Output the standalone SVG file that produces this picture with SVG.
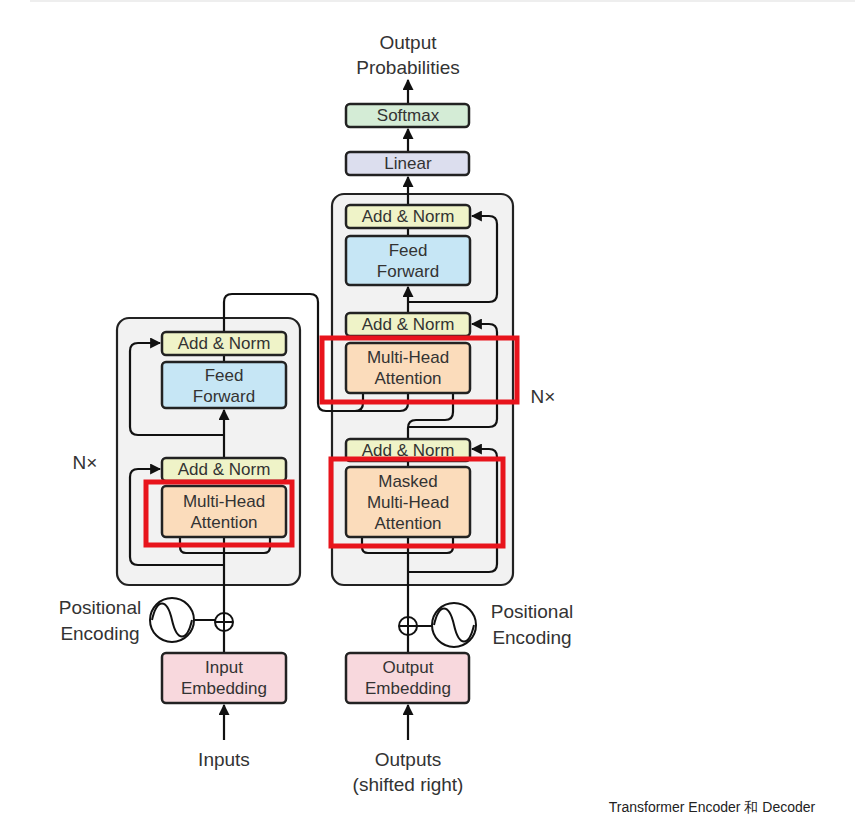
<svg xmlns="http://www.w3.org/2000/svg" width="855" height="825" viewBox="0 0 855 825">
<style>
text{font-family:"Liberation Sans",Arial,sans-serif;fill:#333;text-anchor:middle}
.t{font-size:17px}.l{font-size:19px}
.blk{fill:#f2f2f2;stroke:#222;stroke-width:2.2}
.n{stroke:#222;stroke-width:2.5}
.an{fill:#eff3c8}.ff{fill:#c6e6f5}.mh{fill:#fbdcbb}.sm{fill:#d4ecd6}.li{fill:#dcdeee}.em{fill:#f8d8dd}
.red{fill:none;stroke:#e8141c;stroke-width:5}
.c{fill:none;stroke:#111;stroke-width:2.2}
</style>
<defs><marker id="a" viewBox="0 0 10 10" refX="9" refY="5" markerWidth="5" markerHeight="5" orient="auto"><path d="M0,0L10,5L0,10z" fill="#111"/></marker></defs>
<rect width="855" height="825" fill="#fff"/>
<line x1="30" y1="1" x2="855" y2="1" stroke="#ddd"/>
<rect class="blk" x="117" y="318" width="183" height="267" rx="12"/>
<rect class="blk" x="332" y="194" width="181" height="391" rx="12"/>
<g id="connectors">
<path class="c" marker-end="url(#a)" d="M224,740V705"/>
<path class="c" d="M224,653V631M224,613V537"/>
<path class="c" d="M180,537V547q0,6 6,6H264q6,0 6,-6V537"/>
<path class="c" marker-end="url(#a)" d="M224,565H138q-8,0 -8,-8V477q0,-8 8,-8H160"/>
<path class="c" marker-end="url(#a)" d="M224,458V410"/>
<path class="c" marker-end="url(#a)" d="M224,435H138q-8,0 -8,-8V351q0,-8 8,-8H160"/>
<path class="c" d="M224,362V355M224,332V302q0,-8 8,-8H310q8,0 8,8V403q0,8 8,8H355q8,0 8,-8V393M355,411H400q8,0 8,-8V393"/>
<path class="c" marker-end="url(#a)" d="M408,740V705"/>
<path class="c" d="M408,653V635M408,617V537"/>
<path class="c" d="M362,537V547q0,6 6,6H447q6,0 6,-6V537"/>
<path class="c" marker-end="url(#a)" d="M408,572H489q8,0 8,-8V457q0,-8 -8,-8H472"/>
<path class="c" d="M408,467V461M408,439V428q0,-8 8,-8H445q8,0 8,-8V393"/>
<path class="c" marker-end="url(#a)" d="M408,427H489q8,0 8,-8V332q0,-8 -8,-8H472"/>
<path class="c" marker-end="url(#a)" d="M408,313V287"/>
<path class="c" marker-end="url(#a)" d="M408,302H489q8,0 8,-8V224q0,-8 -8,-8H472"/>
<path class="c" d="M408,236V228"/>
<path class="c" marker-end="url(#a)" d="M408,205V177"/>
<path class="c" marker-end="url(#a)" d="M408,152V129"/>
<path class="c" marker-end="url(#a)" d="M408,104V80"/>
<path class="c" d="M194,620H215M417,626H432"/>
</g>
<g id="enc-an2"><rect class="n an" x="162" y="332" width="124" height="23" rx="4"/><text class="t" x="224" y="349">Add &amp; Norm</text></g>
<g id="enc-ff"><rect class="n ff" x="162" y="362" width="124" height="46" rx="4"/><text class="t" x="224" y="381">Feed</text><text class="t" x="224" y="402">Forward</text></g>
<g id="enc-an1"><rect class="n an" x="162" y="458" width="124" height="23" rx="4"/><text class="t" x="224" y="475">Add &amp; Norm</text></g>
<g id="enc-mha"><rect class="n mh" x="162" y="486" width="124" height="51" rx="4"/><text class="t" x="224" y="507">Multi-Head</text><text class="t" x="224" y="528">Attention</text></g>
<g id="dec-an3"><rect class="n an" x="346" y="205" width="124" height="23" rx="4"/><text class="t" x="408" y="222">Add &amp; Norm</text></g>
<g id="dec-ff"><rect class="n ff" x="346" y="236" width="124" height="49" rx="4"/><text class="t" x="408" y="256">Feed</text><text class="t" x="408" y="277">Forward</text></g>
<g id="dec-an2"><rect class="n an" x="346" y="313" width="124" height="23" rx="4"/><text class="t" x="408" y="330">Add &amp; Norm</text></g>
<g id="dec-mha"><rect class="n mh" x="346" y="343" width="124" height="50" rx="4"/><text class="t" x="408" y="363">Multi-Head</text><text class="t" x="408" y="384">Attention</text></g>
<g id="dec-an1"><rect class="n an" x="346" y="439" width="124" height="22" rx="4"/><text class="t" x="408" y="456">Add &amp; Norm</text></g>
<g id="dec-mmha"><rect class="n mh" x="346" y="467" width="124" height="70" rx="4"/><text class="t" x="408" y="487">Masked</text><text class="t" x="408" y="508">Multi-Head</text><text class="t" x="408" y="529">Attention</text></g>
<g id="softmax"><rect class="n sm" x="346" y="104" width="123" height="23" rx="4"/><text class="t" x="408" y="121">Softmax</text></g>
<g id="linear"><rect class="n li" x="346" y="152" width="123" height="23" rx="4"/><text class="t" x="408" y="169">Linear</text></g>
<g id="in-emb"><rect class="n em" x="162" y="653" width="124" height="50" rx="4"/><text class="t" x="224" y="673">Input</text><text class="t" x="224" y="694">Embedding</text></g>
<g id="out-emb"><rect class="n em" x="346" y="653" width="123" height="50" rx="4"/><text class="t" x="408" y="673">Output</text><text class="t" x="408" y="694">Embedding</text></g>
<g id="enc-plus"><circle cx="224" cy="622" r="9" fill="#fff" stroke="#111" stroke-width="2"/><path d="M215,622H233M224,613V631" stroke="#111" stroke-width="2"/></g>
<g id="dec-plus"><circle cx="408" cy="626" r="9" fill="#fff" stroke="#111" stroke-width="2"/><path d="M399,626H417M408,617V635" stroke="#111" stroke-width="2"/></g>
<g id="enc-pe"><circle cx="172" cy="620" r="22" fill="#fff" stroke="#111" stroke-width="2"/><path d="M152,620c5,-22 15,-22 20,0s15,22 20,0" fill="none" stroke="#111" stroke-width="2"/></g>
<g id="dec-pe"><circle cx="454" cy="625" r="22" fill="#fff" stroke="#111" stroke-width="2"/><path d="M434,625c5,-22 15,-22 20,0s15,22 20,0" fill="none" stroke="#111" stroke-width="2"/></g>
<rect class="red" x="146" y="482" width="146" height="63"/>
<rect class="red" x="322" y="338" width="195" height="64"/>
<rect class="red" x="331" y="459" width="172" height="87"/>
<text class="l" x="100" y="614">Positional</text><text class="l" x="100" y="640">Encoding</text>
<text class="l" x="532" y="618">Positional</text><text class="l" x="532" y="644">Encoding</text>
<text class="l" x="85" y="469">N×</text><text class="l" x="543" y="403">N×</text>
<text class="l" x="224" y="766">Inputs</text>
<text class="l" x="408" y="766">Outputs</text><text class="l" x="408" y="791">(shifted right)</text>
<text class="l" x="408" y="49">Output</text><text class="l" x="408" y="74">Probabilities</text>
<text x="712" y="812" style="font-size:14px;fill:#222">Transformer Encoder 和 Decoder</text>
</svg>
